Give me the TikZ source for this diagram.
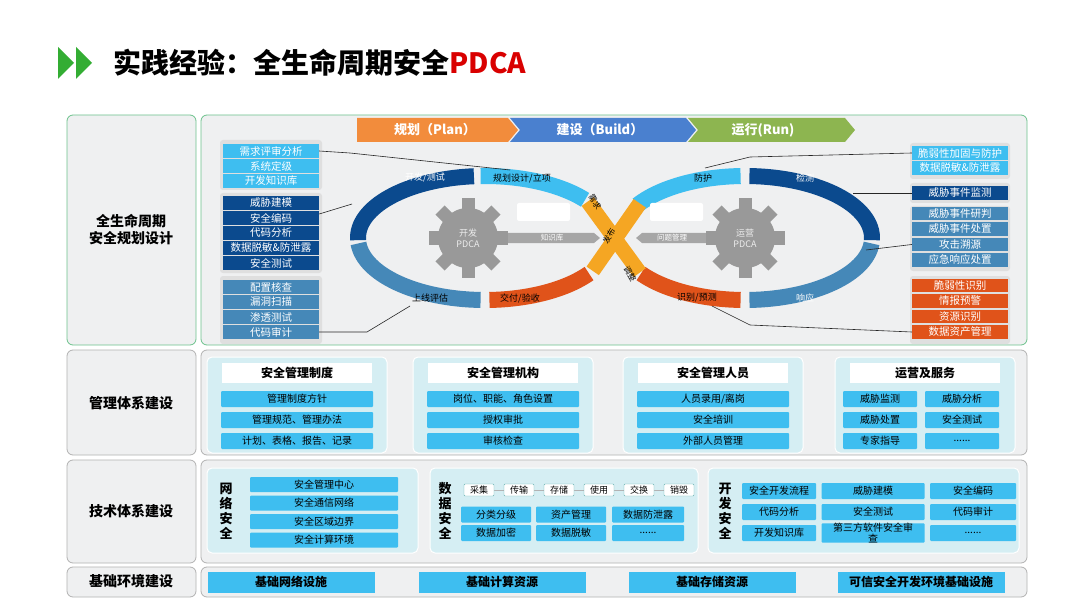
\documentclass[tikz,border=0pt]{standalone}
\usepackage{fontspec}
\setmainfont{Noto Sans CJK SC}
\usetikzlibrary{shapes.geometric, arrows.meta, positioning, calc}
\definecolor{lblue}{HTML}{3EBEF0}
\definecolor{dblue}{HTML}{0B4A8E}
\definecolor{sblue}{HTML}{4588B8}
\definecolor{ored}{HTML}{E0531A}
\definecolor{oyel}{HTML}{F5A623}
\definecolor{panel}{HTML}{EFF0F1}
\definecolor{cyanbg}{HTML}{D5EEF3}
\definecolor{pgreen}{HTML}{6CC28C}
\definecolor{phplan}{HTML}{F28C3C}
\definecolor{phbuild}{HTML}{4A80CF}
\definecolor{phrun}{HTML}{8DB550}
\newcommand\moredots{{.}{.}{.}{.}{.}{.}}
\tikzset{
  rowbox/.style={draw=gray!60, fill=panel, rounded corners=6pt, line width=0.8pt},
  rowlbl/.style={font=\fontsize{14}{17}\selectfont\bfseries, align=center},
  it/.style={fill=#1, text=white, font=\fontsize{10.5}{12}\selectfont, inner sep=0pt, minimum width=96pt, minimum height=13.5pt},
  grp/.style={fill=gray!25, rounded corners=3pt},
  sub/.style={fill=cyanbg, rounded corners=5pt, draw=white, line width=1pt},
  bit/.style={fill=lblue, text=black, font=\fontsize{10}{11}\selectfont, inner sep=0pt, minimum height=16pt, rounded corners=1pt},
  ring/.style={line width=16pt},
  rtxt/.style={font=\fontsize{9}{10}\selectfont},
  tooth/.style={fill=gray!80, minimum size=13pt, inner sep=0pt},
  lead/.style={draw=gray!30!black, line width=0.6pt}
}
\begin{document}
\begin{tikzpicture}[x=1pt,y=-1pt]
\useasboundingbox[fill=white] (0,0) rectangle (1080,607);
% Title
\fill[green!60!black!80] (58,47) -- (74,63) -- (58,79) -- cycle;
\fill[green!60!black!80] (76,47) -- (92,63) -- (76,79) -- cycle;
\node[anchor=west, font=\fontsize{28}{30}\selectfont\bfseries] (title) at (110,63) {实践经验：全生命周期安全\textcolor{red!85!black}{PDCA}};

% Row frames
\draw[rowbox, draw=pgreen] (67,115) rectangle (196,345);
\draw[rowbox] (67,350) rectangle (196,455);
\draw[rowbox] (67,460) rectangle (196,563);
\draw[rowbox] (67,567) rectangle (196,597);
\draw[rowbox, draw=pgreen] (201,115) rectangle (1027,345);
\draw[rowbox] (201,350) rectangle (1027,455);
\draw[rowbox] (201,460) rectangle (1027,563);
\draw[rowbox] (201,567) rectangle (1027,597);
\node[rowlbl] (r1) at (131,230) {全生命周期\\安全规划设计};
\node[rowlbl] (r2) at (131,403) {管理体系建设};
\node[rowlbl] (r3) at (131,511) {技术体系建设};
\node[rowlbl] (r4) at (131,581) {基础环境建设};

% Phase arrows
\fill[phplan] (357,118) -- (508,118) -- (518,130) -- (508,142) -- (357,142) -- cycle;
\fill[phbuild] (510,118) -- (686,118) -- (696,130) -- (686,142) -- (510,142) -- (520,130) -- cycle;
\fill[phrun] (688,118) -- (845,118) -- (855,130) -- (845,142) -- (688,142) -- (698,130) -- cycle;
\node[text=white, font=\fontsize{13}{15}\selectfont\bfseries] (plan) at (435,130) {规划（Plan）};
\node[text=white, font=\fontsize{13}{15}\selectfont\bfseries] (build) at (600,130) {建设（Build）};
\node[text=white, font=\fontsize{13}{15}\selectfont\bfseries] (run) at (763,130) {运行(Run)};

% Left lists
\fill[grp] (220,140) rectangle (322,190);
\fill[grp] (220,193) rectangle (322,273);
\fill[grp] (220,276) rectangle (322,344);
\foreach \t [count=\i] in {需求评审分析,系统定级,开发知识库}
  \node[it=lblue] (la\i) at (271,136+15*\i) {\t};
\foreach \t [count=\i] in {威胁建模,安全编码,代码分析,数据脱敏\&防泄露,安全测试}
  \node[it=dblue] (lb\i) at (271,188+15*\i) {\t};
\foreach \t [count=\i] in {配置核查,漏洞扫描,渗透测试,代码审计}
  \node[it=sblue] (lc\i) at (271,272+15*\i) {\t};

% Right lists
\fill[grp] (910,143) rectangle (1010,179);
\fill[grp] (910,183) rectangle (1010,203);
\fill[grp] (910,206) rectangle (1010,271);
\fill[grp] (910,276) rectangle (1010,344);
\foreach \t [count=\i] in {脆弱性加固与防护,数据脱敏\&防泄露}
  \node[it=lblue] (ra\i) at (960,138+15*\i) {\t};
\node[it=dblue] (rb1) at (960,193) {威胁事件监测};
\foreach \t [count=\i] in {威胁事件研判,威胁事件处置,攻击溯源,应急响应处置}
  \node[it=sblue] (rc\i) at (960,198+15.5*\i) {\t};
\foreach \t [count=\i] in {脆弱性识别,情报预警,资源识别,数据资产管理}
  \node[it=ored] (rd\i) at (960,270+15.5*\i) {\t};

% Infinity loop (y axis points down, so angles are mirrored)
\coordinate (lc) at (485,238);
\coordinate (rc) at (745,238);
\draw[ring, dblue] (lc) ++(-95:127 and 62) arc[start angle=-95, end angle=-182, x radius=127, y radius=62];
\draw[ring, sblue] (lc) ++(-185:127 and 62) arc[start angle=-185, end angle=-268, x radius=127, y radius=62];
\draw[ring, ored] (lc) ++(-272:127 and 62) arc[start angle=-272, end angle=-325, x radius=127, y radius=62];
\draw[ring, lblue] (lc) ++(-92:127 and 62) arc[start angle=-92, end angle=-38, x radius=127, y radius=62];
\draw[ring, lblue] (rc) ++(-148:127 and 62) arc[start angle=-148, end angle=-92, x radius=127, y radius=62];
\draw[ring, dblue] (rc) ++(-88:127 and 62) arc[start angle=-88, end angle=2, x radius=127, y radius=62];
\draw[ring, sblue] (rc) ++(5:127 and 62) arc[start angle=5, end angle=88, x radius=127, y radius=62];
\draw[ring, ored] (rc) ++(92:127 and 62) arc[start angle=92, end angle=145, x radius=127, y radius=62];
\coordinate (xa) at ($(lc)+(-36:127 and 62)$);
\coordinate (xb) at ($(rc)+(-214:127 and 62)$);
\coordinate (xc) at ($(lc)+(32:127 and 62)$);
\coordinate (xd) at ($(rc)+(-146:127 and 62)$);
\draw[ring, oyel, line width=15pt] (xa) -- (xb);
\draw[ring, oyel, line width=15pt] (xc) -- (xd);

% Ring labels
\node[rtxt, text=white] (p1) at (425,178) {开发/测试};
\node[rtxt] (p2) at (522,178) {规划设计/立项};
\node[rtxt] (p3) at (430,298) {上线评估};
\node[rtxt] (p4) at (520,298) {交付/验收};
\node[rtxt] (p5) at (703,178) {防护};
\node[rtxt, text=white] (p6) at (805,178) {检测};
\node[rtxt] (p7) at (697,298) {识别/预测};
\node[rtxt, text=white] (p8) at (805,298) {响应};
\node[rtxt, rotate=-60, font=\fontsize{8}{9}\selectfont] (q1) at (595,202) {需求};
\node[rtxt, rotate=60, font=\fontsize{8}{9}\selectfont] (q2) at (609,236) {发布};
\node[rtxt, rotate=-60, font=\fontsize{8}{9}\selectfont] (q3) at (630,274) {调整};

% Gears and knowledge arrows
\fill[white, rounded corners=2pt] (517,203) rectangle (570,221);
\fill[white, rounded corners=2pt] (650,203) rectangle (703,221);
\coordinate (gc1) at (468,238);
\coordinate (gc2) at (745,238);
\fill[gray!70] (500,233) -- (594,233) -- (600,238) -- (594,243) -- (500,243) -- cycle;
\fill[gray!70] (720,233) -- (642,233) -- (636,238) -- (642,243) -- (720,243) -- cycle;
\node[text=white, font=\fontsize{7.5}{9}\selectfont] (kb) at (552,238) {知识库};
\node[text=white, font=\fontsize{7.5}{9}\selectfont] (pm) at (672,238) {问题管理};
\foreach \c in {gc1,gc2} {
  \fill[gray!80] (\c) circle (30);
  \foreach \a in {0,45,...,315}
    \node[tooth, rotate=\a] at ($(\c)+(\a:33)$) {};
}
\node[text=white!85!gray, font=\fontsize{9}{11}\selectfont, align=center] (g1) at (gc1) {开发\\PDCA};
\node[text=white!85!gray, font=\fontsize{9}{11}\selectfont, align=center] (g2) at (gc2) {运营\\PDCA};

% Leader lines
\draw[lead] (la1.east) -- (350,153) -- (510,170);
\draw[lead] (lb1.east) ++(0,11) -- (352,204);
\draw[lead] (lc4.east) -- (367,332) -- (410,306);
\draw[lead] (ra1.west) -- (750,157) -- (705,168);
\draw[lead] (rb1.west) -- (853,193);
\draw[lead] (rc3.west) -- (866,250);
\draw[lead] (rd4.west) -- (750,325) -- (712,306);

% Management row
\foreach \x/\t [count=\i] in {207/安全管理制度,413/安全管理机构,623/安全管理人员,835/运营及服务} {
  \fill[sub] (\x,357) rectangle ++(180,96);
  \node[fill=white, font=\fontsize{12}{14}\selectfont\bfseries, minimum width=150pt, minimum height=20pt, inner sep=0pt] (m\i) at (\x+90,373) {\t};
}
\foreach \t [count=\i] in {管理制度方针,管理规范、管理办法,计划、表格、报告、记录}
  \node[bit, minimum width=152pt] (ma\i) at (297,378+21*\i) {\t};
\foreach \t [count=\i] in {岗位、职能、角色设置,授权审批,审核检查}
  \node[bit, minimum width=152pt] (mb\i) at (503,378+21*\i) {\t};
\foreach \t [count=\i] in {人员录用/离岗,安全培训,外部人员管理}
  \node[bit, minimum width=152pt] (mc\i) at (713,378+21*\i) {\t};
\foreach \t/\u [count=\i] in {威胁监测/威胁分析,威胁处置/安全测试,专家指导/\moredots} {
  \node[bit, minimum width=74pt] (md\i) at (880,378+21*\i) {\t};
  \node[bit, minimum width=74pt] (me\i) at (962,378+21*\i) {\u};
}

% Technology row
\fill[sub] (207,468) rectangle (418,553);
\fill[sub] (430,468) rectangle (698,553);
\fill[sub] (708,468) rectangle (1019,553);
\node[font=\fontsize{13}{15}\selectfont\bfseries, align=center] (t1) at (226,511) {网\\络\\安\\全};
\node[font=\fontsize{13}{15}\selectfont\bfseries, align=center] (t2) at (445,511) {数\\据\\安\\全};
\node[font=\fontsize{13}{15}\selectfont\bfseries, align=center] (t3) at (725,511) {开\\发\\安\\全};
\foreach \t [count=\i] in {安全管理中心,安全通信网络,安全区域边界,安全计算环境}
  \node[bit, minimum width=148pt, minimum height=15pt] (na\i) at (324,466+18.5*\i) {\t};
\draw[gray!60, line width=0.8pt] (464,490) -- (684,490);
\foreach \t [count=\i] in {采集,传输,存储,使用,交换,销毁}
  \node[draw=teal!60, fill=white, font=\fontsize{9}{10}\selectfont, inner sep=0pt, minimum width=30pt, minimum height=12pt, rounded corners=1pt] (dc\i) at (439+40*\i,490) {\t};
\foreach \t/\u/\v [count=\i] in {分类分级/资产管理/数据防泄露,数据加密/数据脱敏/\moredots} {
  \node[bit, minimum width=70pt] (da\i) at (496,496+18.5*\i) {\t};
  \node[bit, minimum width=70pt] (db\i) at (571,496+18.5*\i) {\u};
  \node[bit, minimum width=72pt] (dd\i) at (648,496+18.5*\i) {\v};
}
\foreach \t/\u/\v [count=\i] in {安全开发流程/威胁建模/安全编码,代码分析/安全测试/代码审计,开发知识库/{第三方软件安全审\\查}/\moredots} {
  \node[bit, minimum width=74pt, align=center] (ea\i) at (779,470+21*\i) {\t};
  \node[bit, minimum width=103pt, align=center, font=\fontsize{10}{10.5}\selectfont] (eb\i) at (873,470+21*\i) {\u};
  \node[bit, minimum width=86pt, align=center] (ec\i) at (973,470+21*\i) {\v};
}

% Base row
\foreach \x/\t [count=\i] in {291/基础网络设施,502/基础计算资源,712/基础存储资源,921/可信安全开发环境基础设施}
  \node[fill=lblue, font=\fontsize{12}{14}\selectfont\bfseries, minimum width=167pt, minimum height=21pt, inner sep=0pt] (b\i) at (\x,582) {\t};
\end{tikzpicture}
\end{document}
